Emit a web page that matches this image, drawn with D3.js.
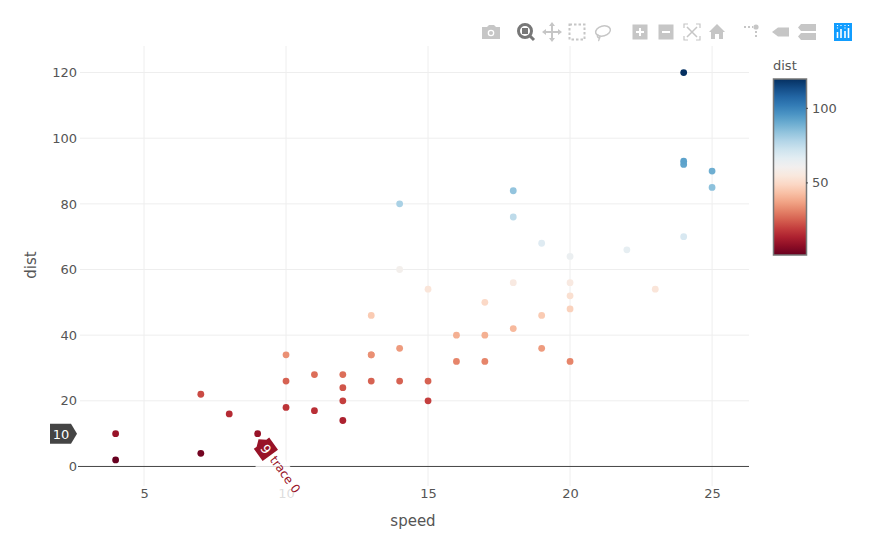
<!DOCTYPE html>
<html>
<head>
<meta charset="utf-8">
<script src="https://cdn.jsdelivr.net/npm/d3@7"></script>
<style>
  html, body { margin: 0; padding: 0; background: #fff; }
  svg { display: block; font-family: "DejaVu Sans", sans-serif; }
</style>
</head>
<body>
<script>
// cars data
const speed = [4,4,7,7,8,9,10,10,10,11,11,12,12,12,12,13,13,13,13,14,14,14,14,15,15,15,16,16,17,17,17,18,18,18,18,19,19,19,20,20,20,20,20,22,23,24,24,24,24,25,25];
const dist = [2,10,4,22,16,10,18,26,34,17,28,14,20,24,28,26,34,34,46,26,36,60,80,20,26,54,32,40,32,40,50,42,56,76,84,36,46,68,32,48,52,56,64,66,54,70,92,93,120,85,90];
const xTicks = [5,10,15,20,25];
const yTicks = [0,20,40,60,80,100,120];
const barTicks = [50,100];

const width = 890, height = 539;
const lineColor = "#444", textColor = "#555";

const svg = d3.select("body").append("svg")
  .attr("width", width)
  .attr("height", height);

// Scales
const x = d3.scaleLinear().domain([2.746, 26.3]).range([80, 749]);
const y = d3.scaleLinear().domain([-5.95, 128]).range([486, 46.3]);
const color = d3.scaleSequential(d3.interpolateRdBu).domain([2, 120]);
const barY = d3.scaleLinear().domain([2, 120]).range([255, 79]);

// Grid
svg.append("g").selectAll("line").data(xTicks).enter().append("line")
  .attr("x1", d => x(d)).attr("x2", d => x(d))
  .attr("y1", 46).attr("y2", 486)
  .attr("stroke", "#eee");

svg.append("g").selectAll("line").data(yTicks.filter(d => d !== 0)).enter().append("line")
  .attr("x1", 80).attr("x2", 749)
  .attr("y1", d => y(d)).attr("y2", d => y(d))
  .attr("stroke", "#eee");

// Axes
const xAxis = svg.append("g")
  .attr("transform", "translate(0,486)")
  .call(d3.axisBottom(x).tickValues(xTicks).tickSize(0).tickPadding(3));
const yAxis = svg.append("g")
  .attr("transform", "translate(80,0)")
  .call(d3.axisLeft(y).tickValues(yTicks).tickSize(0).tickPadding(3));

[xAxis, yAxis].forEach(a => {
  a.select(".domain").remove();
  a.selectAll("text")
    .attr("fill", textColor)
    .style("font-size", "13px")
    .style("font-family", "\"DejaVu Sans\", sans-serif");
});

// Zero line
svg.append("line")
  .attr("x1", 78).attr("x2", 749)
  .attr("y1", y(0)).attr("y2", y(0))
  .attr("stroke", lineColor);

// Points
svg.append("g").selectAll("circle")
  .data(speed.map((s, i) => ({ s, d: dist[i] })))
  .enter().append("circle")
  .attr("cx", d => x(d.s))
  .attr("cy", d => y(d.d))
  .attr("r", 3.4)
  .attr("fill", d => color(d.d));

// Axis titles
svg.append("text").text("speed")
  .attr("x", 413).attr("y", 526)
  .attr("text-anchor", "middle")
  .attr("font-size", 15).attr("fill", textColor);

svg.append("text").text("dist")
  .attr("transform", "translate(36,265) rotate(-90)")
  .attr("text-anchor", "middle")
  .attr("font-size", 15).attr("fill", textColor);

// Colorbar
const grad = svg.append("defs").append("linearGradient")
  .attr("id", "bar").attr("x1", 0).attr("x2", 0).attr("y1", 1).attr("y2", 0);
d3.range(0, 1.01, 0.05).forEach(t => {
  grad.append("stop").attr("offset", t).attr("stop-color", d3.interpolateRdBu(t));
});

svg.append("rect")
  .attr("x", 773.5).attr("y", barY(120))
  .attr("width", 33).attr("height", barY(2) - barY(120))
  .attr("fill", "url(#bar)")
  .attr("stroke", "#777")
  .attr("stroke-width", 1.5);

svg.append("text").text("dist")
  .attr("x", 773).attr("y", 70)
  .attr("font-size", 13).attr("fill", textColor);

const barAxis = svg.append("g")
  .attr("transform", "translate(806,-1)")
  .call(d3.axisRight(barY).tickValues(barTicks).tickSize(2).tickPadding(4));
barAxis.select(".domain").remove();
barAxis.selectAll("line").attr("stroke", lineColor);
barAxis.selectAll("text")
  .attr("fill", textColor)
  .style("font-size", "13px")
  .style("font-family", "\"DejaVu Sans\", sans-serif");

// Hover labels on the point (9, 10)
const hoverSpeed = 9, hoverDist = 10;
const hx = x(hoverSpeed), hy = y(hoverDist);

const yHover = svg.append("g").attr("transform", `translate(0,${hy})`);
yHover.append("path")
  .attr("d", "M50,-10H71L77,0L71,10H50Z")
  .attr("fill", lineColor);
yHover.append("text").text(hoverDist)
  .attr("x", 61).attr("y", 5)
  .attr("text-anchor", "middle")
  .attr("font-size", 13).attr("fill", "#fff");

const xHover = svg.append("g").attr("transform", `translate(${hx},${hy}) rotate(54)`);
xHover.append("rect")
  .attr("x", 25).attr("y", -7).attr("width", 53).attr("height", 28)
  .attr("fill", "#fff").attr("opacity", 0.8);
xHover.append("path")
  .attr("d", "M10,-7H25V12H10V8.5L5,2.5L10,-3.5Z")
  .attr("fill", color(hoverDist));
xHover.append("text").text(hoverSpeed)
  .attr("x", 17.5).attr("y", 7)
  .attr("text-anchor", "middle")
  .attr("font-size", 13).attr("fill", "#fff");
xHover.append("text").text("trace 0")
  .attr("x", 28).attr("y", 6)
  .attr("font-size", 12).attr("fill", color(hoverDist));

// Modebar
const idle = "#c6c6c6", active = "#777";
const bar = svg.append("g");

function icon(cx, cy) {
  return bar.append("g").attr("transform", `translate(${cx},${cy})`);
}

// camera
let g = icon(491, 32);
g.append("path").attr("fill", idle).attr("d", "M-9,-5H-4L-2,-7H3L5,-5H9V7H-9Z");
g.append("circle").attr("r", 3.3).attr("cy", 1).attr("fill", "#fff");
g.append("circle").attr("r", 2).attr("cy", 1).attr("fill", idle);

// zoom (active)
g = icon(525, 31);
g.append("circle").attr("r", 6.5).attr("fill", "none").attr("stroke", active).attr("stroke-width", 3);
g.append("rect").attr("x", -3).attr("y", -3).attr("width", 6).attr("height", 6).attr("fill", active);
g.append("line").attr("x1", 5).attr("y1", 5).attr("x2", 9).attr("y2", 9)
  .attr("stroke", active).attr("stroke-width", 3);

// pan
g = icon(552, 32);
g.append("path").attr("fill", "none").attr("stroke", idle).attr("stroke-width", 2).attr("d", "M-7,0H7M0,-7V7");
g.append("path").attr("fill", idle).attr("d", "M0,-10L3,-6H-3ZM0,10L3,6H-3ZM-10,0L-6,-3V3ZM10,0L6,-3V3Z");

// box select
g = icon(577, 32);
g.append("rect").attr("x", -7.5).attr("y", -7.5).attr("width", 15).attr("height", 15)
  .attr("fill", "none").attr("stroke", idle).attr("stroke-width", 2).attr("stroke-dasharray", "2.5 2");

// lasso
g = icon(603, 31);
g.append("ellipse").attr("rx", 7.5).attr("ry", 5).attr("transform", "rotate(-15)")
  .attr("fill", "none").attr("stroke", idle).attr("stroke-width", 1.5);
g.append("path").attr("fill", "none").attr("stroke", idle).attr("stroke-width", 1.5)
  .attr("d", "M-5,3C-7,7 -3,8 -3,5C-3,8 -5,9 -4,10");

// zoom in / out
g = icon(640, 32);
g.append("rect").attr("x", -7.5).attr("y", -7.5).attr("width", 15).attr("height", 15).attr("fill", idle);
g.append("path").attr("stroke", "#fff").attr("stroke-width", 2).attr("d", "M-4,0H4M0,-4V4");
g = icon(666, 32);
g.append("rect").attr("x", -7.5).attr("y", -7.5).attr("width", 15).attr("height", 15).attr("fill", idle);
g.append("path").attr("stroke", "#fff").attr("stroke-width", 2).attr("d", "M-4,0H4");

// autoscale
g = icon(692, 32);
g.append("path").attr("fill", "none").attr("stroke", idle).attr("stroke-width", 1.2)
  .attr("d", "M-8,-4V-8H-4M4,-8H8V-4M8,4V8H4M-4,8H-8V4");
g.append("path").attr("fill", "none").attr("stroke", idle).attr("stroke-width", 1.5)
  .attr("d", "M-5,-5L5,5M5,-5L-5,5");

// home
g = icon(717, 32);
g.append("path").attr("fill", idle).attr("d", "M0,-8L8,0H6V7H2V2H-2V7H-6V0H-8Z");

// spikelines
g = icon(752, 31);
g.append("circle").attr("cx", 4).attr("cy", -4).attr("r", 2.6).attr("fill", idle);
g.append("path").attr("stroke", idle).attr("stroke-width", 2).attr("stroke-dasharray", "2 2")
  .attr("fill", "none").attr("d", "M-8,-4H1M4,0V8");

// closest / compare hover
g = icon(781, 32);
g.append("path").attr("fill", idle).attr("d", "M-9,0L-3,-4.5H8V4.5H-3Z");
g = icon(807, 32);
g.append("path").attr("fill", idle).attr("d", "M-9,-4.5L-6,-8H9V-1H-6ZM-9,4.5L-6,1H9V8H-6Z");

// logo
g = icon(843, 32);
g.append("rect").attr("x", -9).attr("y", -9).attr("width", 18).attr("height", 18).attr("fill", "#119dff");
g.append("path").attr("stroke", "#fff").attr("stroke-width", 1.6)
  .attr("d", "M-5.5,0V6M-2,-3V6M2,-1V6M5.5,-4V6");
g.append("path").attr("stroke", "#fff").attr("stroke-width", 1.2).attr("stroke-dasharray", "1 1.5")
  .attr("d", "M-5.5,-7V-2M-2,-7V-5M2,-7V-3M5.5,-7V-5.5");
</script>
</body>
</html>
